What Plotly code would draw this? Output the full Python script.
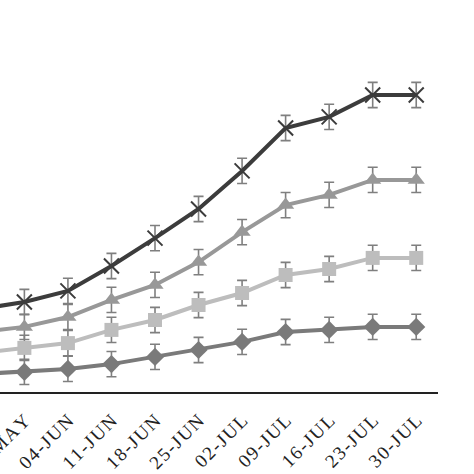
import plotly.graph_objects as go

dates = ["21-MAY", "28-MAY", "04-JUN", "11-JUN", "18-JUN", "25-JUN",
         "02-JUL", "09-JUL", "16-JUL", "23-JUL", "30-JUL"]

series_x = [27.7, 30.0, 33.7, 42.0, 51.3, 61.0, 73.7, 88.0, 91.7, 99.0, 99.0]
series_tri = [20.0, 21.7, 25.0, 30.7, 35.7, 43.3, 53.3, 62.3, 65.7, 70.7, 70.7]
series_sq = [13.0, 14.7, 16.3, 20.7, 24.0, 29.0, 33.0, 39.0, 41.0, 44.7, 44.7]
series_dia = [6.0, 6.7, 7.7, 9.3, 11.7, 14.0, 16.7, 20.0, 20.7, 21.7, 21.7]
err = 4.2

# spaced-out tick text (the reference letters are widely tracked)
tick_text = ["\u200a".join(d) for d in dates]

traces = [
    (series_dia, "#7a7a7a", "diamond", 14),
    (series_sq, "#bdbdbd", "square", 14),
    (series_tri, "#989898", "triangle-up", 15),
    (series_x, "#3c3c3c", "x-thin-open", 15),
]

fig = go.Figure()
for vals, col, sym, size in traces:
    marker = dict(symbol=sym, size=size, color=col)
    if sym == "x-thin-open":
        marker["line"] = dict(color=col, width=2)
    fig.add_trace(go.Scatter(
        x=dates, y=vals, mode="lines+markers",
        line=dict(color=col, width=4),
        marker=marker,
        error_y=dict(type="constant", value=err, color="#7f7f7f",
                     thickness=1.6, width=5),
        showlegend=False,
    ))

fig.update_layout(
    width=474, height=474,
    margin=dict(l=0, r=36, t=0, b=82),
    plot_bgcolor="white", paper_bgcolor="white",
    font=dict(family="Liberation Serif", size=19, color="#222222"),
)
fig.update_xaxes(
    type="category", categoryorder="array", categoryarray=dates,
    tickvals=dates, ticktext=tick_text,
    range=[0.44, 10.5], showline=True, linecolor="#222222", linewidth=2,
    showgrid=False, ticks="", tickangle=-45, automargin=False,
    ticklabelstandoff=8,
    tickfont=dict(family="Liberation Serif", size=19, color="#222222"),
)
fig.update_yaxes(range=[0, 130.67], visible=False, showgrid=False)

fig.write_html("out.html", config={"displayModeBar": False},
               post_script="document.body.style.margin='0px';document.body.style.padding='0px';")
